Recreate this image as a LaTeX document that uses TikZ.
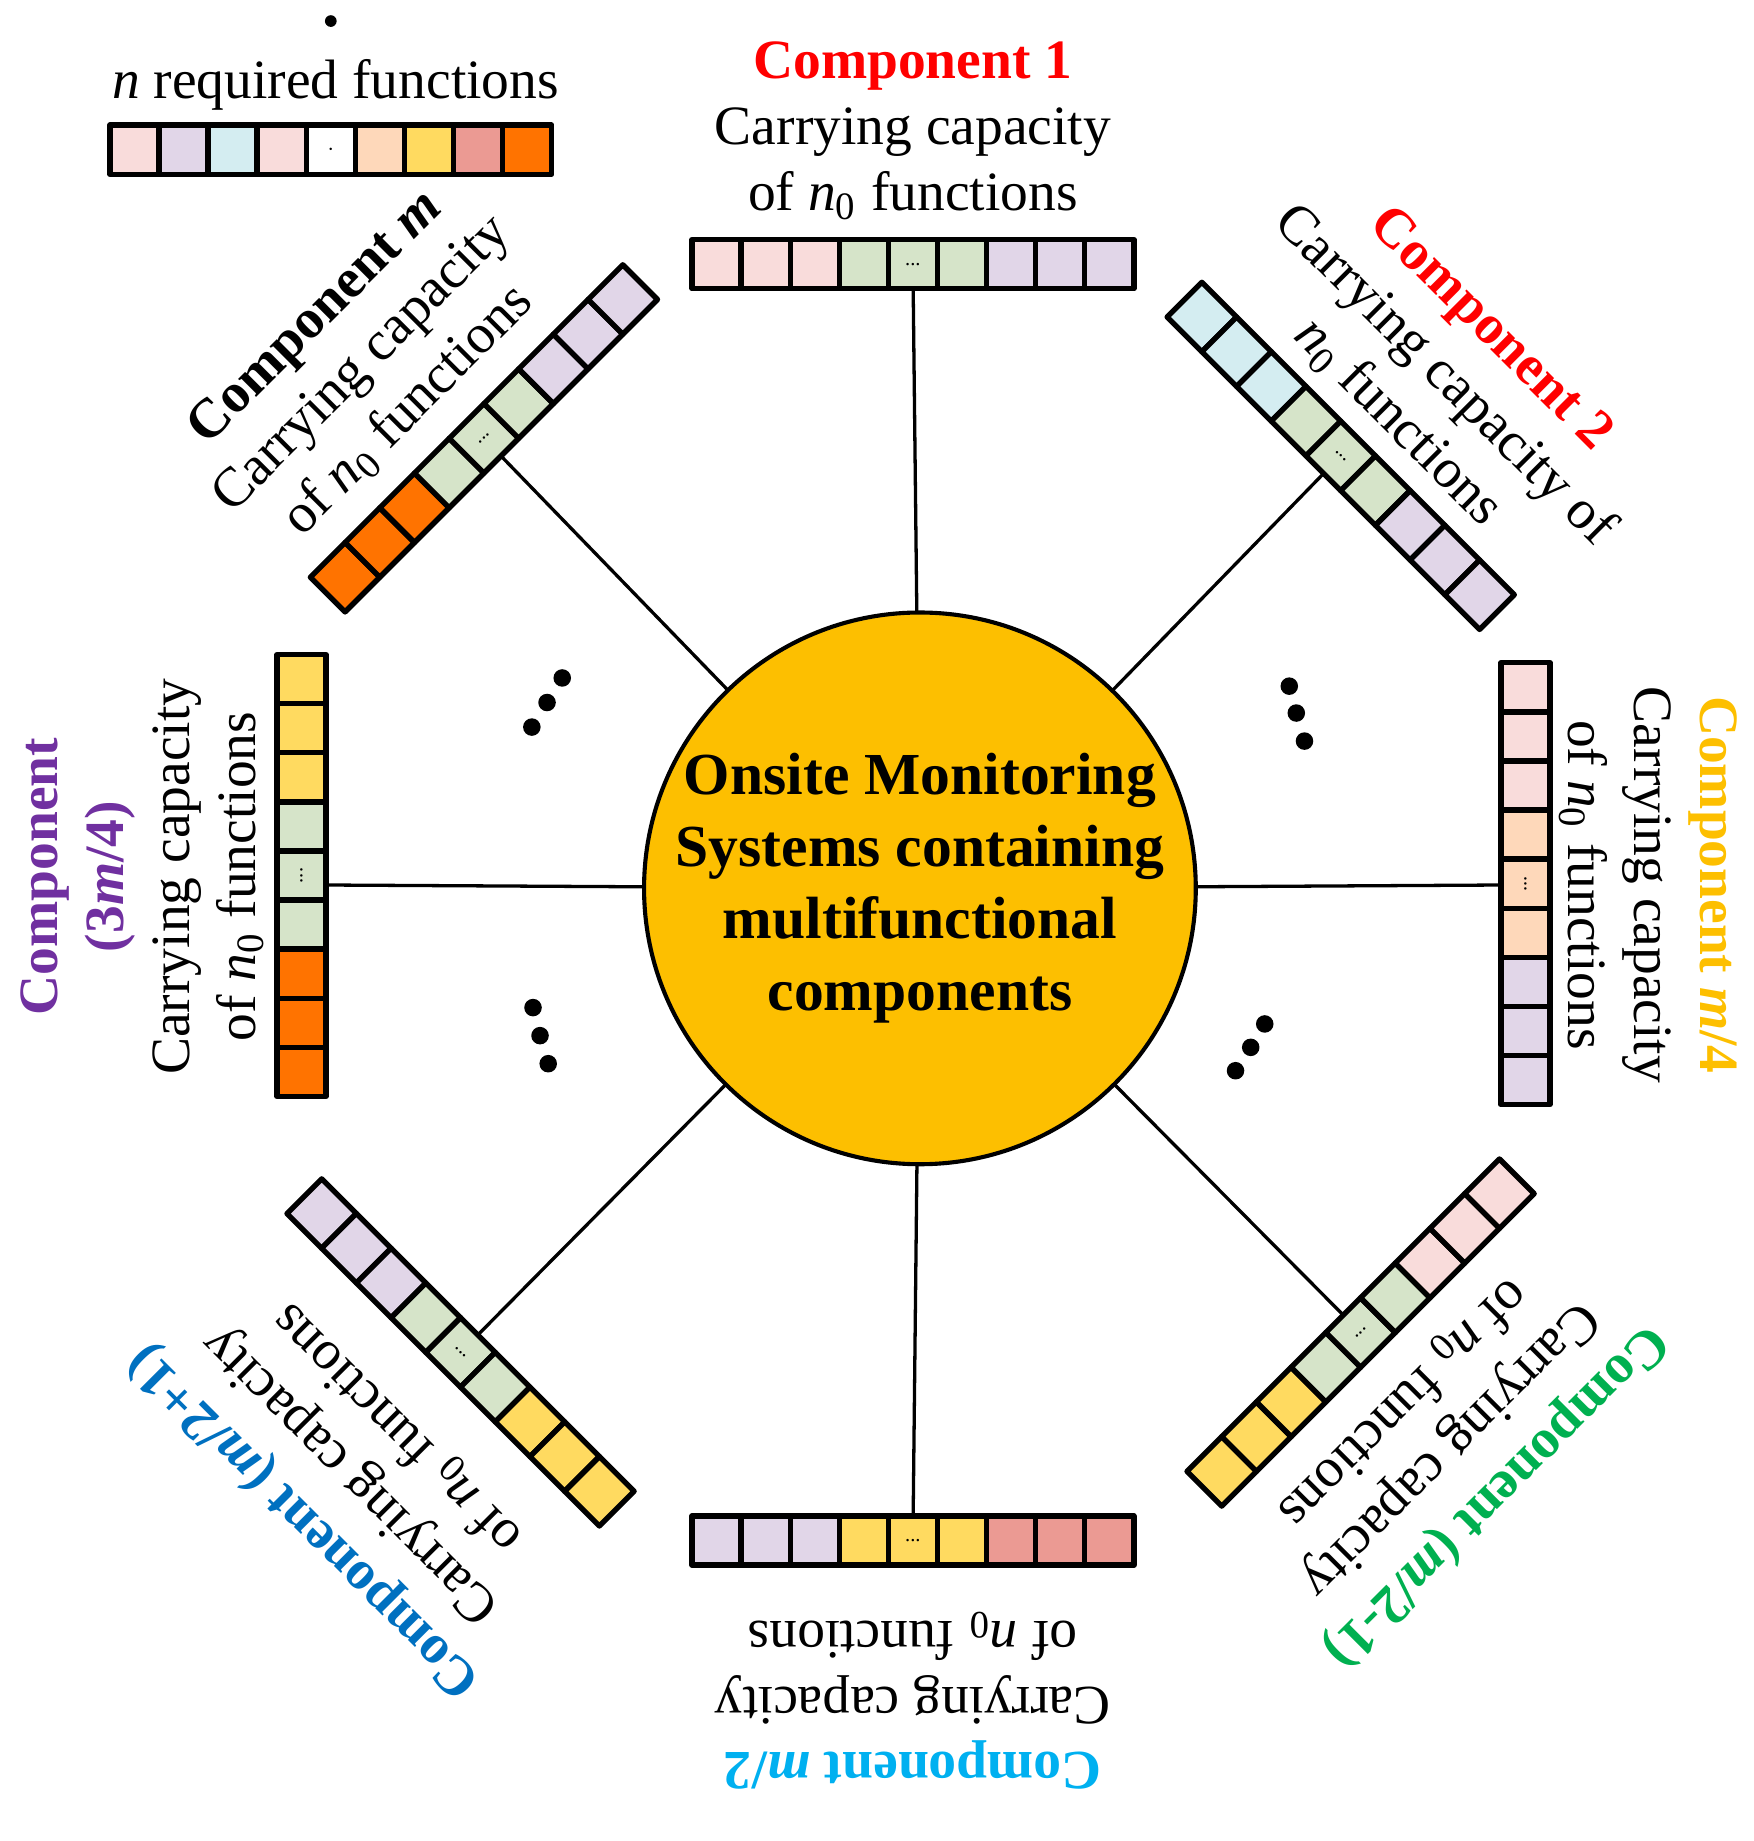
\documentclass[tikz,border=0pt]{standalone}
\usepackage{fontspec}
\setmainfont{Liberation Serif}
\definecolor{cP}{HTML}{F9DCDB}
\definecolor{cL}{HTML}{E1D6E8}
\definecolor{cG}{HTML}{D6E4C9}
\definecolor{cB}{HTML}{D4EDF1}
\definecolor{cE}{HTML}{FED8BA}
\definecolor{cY}{HTML}{FFDA60}
\definecolor{cS}{HTML}{EB9A93}
\definecolor{cO}{HTML}{FF7300}
\definecolor{cW}{HTML}{FFFFFF}
\definecolor{hub}{HTML}{FDBF00}
\newcommand\fbar[5]{%
  \begin{scope}[shift={#1},rotate=#2]
    \foreach \c [count=\i] in {#4}
      \draw[cell,fill=\c] ({(\i-5.5)*42},-21) rectangle ++(42,42);
    \node[transform shape,font=\tiny,inner sep=0] at (0,0) {#5};
  \end{scope}
  \coordinate (#3) at #1;}
\begin{document}
\begin{tikzpicture}[x=0.01cm,y=-0.01cm,
    cell/.style={line width=1.3pt,line join=round},
    lbl/.style={align=center,font=\fontsize{13.5}{16}\selectfont,inner sep=0},
    conn/.style={line width=0.8pt},
    dot/.style={circle,fill=black,inner sep=0,minimum size=1.5mm}]
  \useasboundingbox (0,0) rectangle (1500,1575);
  \node[circle,inner sep=0,minimum size=4.72cm] (c) at (787,760) {};
  % connectors
  \coordinate (t) at (781,226);
  \coordinate (b) at (781,1318);
  \coordinate (l) at (258,757);
  \coordinate (r) at (1305,757);
  \coordinate (tr) at (1147,390);
  \coordinate (tl) at (414,375);
  \coordinate (bl) at (394,1157);
  \coordinate (br) at (1164,1140);
  \foreach \p in {t,b,l,r,tr,tl,bl,br} \draw[conn] (c.center) -- (\p);
  % bars
  \fbar{(781,226)}{0}{bt}{cP,cP,cP,cG,cG,cG,cL,cL,cL}{...}
  \fbar{(781,1318)}{0}{bb}{cL,cL,cL,cY,cY,cY,cS,cS,cS}{...}
  \fbar{(258,749)}{90}{bl2}{cO,cO,cO,cG,cG,cG,cY,cY,cY}{...}
  \fbar{(1305,756)}{90}{br2}{cL,cL,cL,cE,cE,cE,cP,cP,cP}{...}
  \fbar{(1147,390)}{-45}{btr}{cB,cB,cB,cG,cG,cG,cL,cL,cL}{...}
  \fbar{(414,375)}{45}{btl}{cO,cO,cO,cG,cG,cG,cL,cL,cL}{...}
  \fbar{(394,1157)}{-45}{bbl}{cL,cL,cL,cG,cG,cG,cY,cY,cY}{...}
  \fbar{(1164,1140)}{45}{bbr}{cY,cY,cY,cG,cG,cG,cP,cP,cP}{...}
  \fbar{(283,128)}{0}{leg}{cP,cL,cB,cP,cW,cE,cY,cS,cO}{$\cdot$}
  % hub
  \draw[line width=1pt,fill=hub] (c.center) circle (236);
  \node[align=center,inner sep=0,
        font=\bfseries\fontsize{14.5}{17.5}\selectfont] (hubn) at (787,760)
        {Onsite Monitoring\\Systems containing\\multifunctional\\components};
  % labels
  \node[lbl] (lleg) at (287,73) {\textit{n} required functions};
  \node[dot,minimum size=1mm] (d0) at (283,18) {};
  \node[lbl] (l1) at (781,112) {\textcolor{red}{\bfseries Component 1}\\Carrying capacity\\of \textit{n}\textsubscript{0} functions};
  \node[lbl,rotate=-45] (l2) at (1235,322) {\textcolor{red}{\bfseries Component 2}\\Carrying capacity of\\\textit{n}\textsubscript{0} functions};
  \node[lbl,rotate=-90] (l3) at (1410,757) {\textcolor{hub}{\bfseries Component \textit{m}/4}\\Carrying capacity\\of \textit{n}\textsubscript{0} functions};
  \node[lbl,rotate=-135] (l4) at (1240,1240) {\textcolor[HTML]{00B050}{\bfseries Component (\textit{m}/2-1)}\\Carrying capacity\\of \textit{n}\textsubscript{0} functions};
  \node[lbl,rotate=180] (l5) at (781,1455) {\textcolor[HTML]{00B0F0}{\bfseries Component \textit{m}/2}\\Carrying capacity\\of \textit{n}\textsubscript{0} functions};
  \node[lbl,rotate=135] (l6) at (300,1262) {\textcolor[HTML]{0070C0}{\bfseries Component (\textit{m}/2+1)}\\Carrying capacity\\of \textit{n}\textsubscript{0} functions};
  \node[lbl,rotate=90] (l7) at (122,750) {\textcolor[HTML]{7030A0}{\bfseries Component}\\\textcolor[HTML]{7030A0}{\bfseries (3\textit{m}/4)}\\Carrying capacity\\of \textit{n}\textsubscript{0} functions};
  \node[lbl,rotate=45] (l8) at (310,312) {{\bfseries Component \textit{m}}\\Carrying capacity\\of \textit{n}\textsubscript{0} functions};
  % ellipsis dots
  \foreach \x/\y [count=\k] in {455/622,468/601,481/580,1103/587,1109/610,1116/634,
      456/862,462/886,469/910,1057/916,1070/896,1082/876}
    \node[dot] (e\k) at (\x,\y) {};
\end{tikzpicture}
\end{document}
